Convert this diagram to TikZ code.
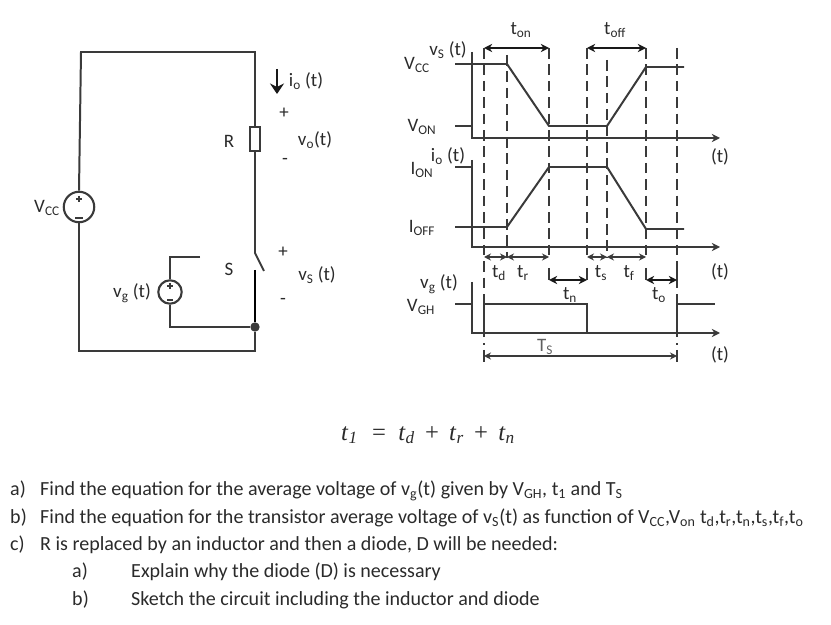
\documentclass[tikz,border=0pt]{standalone}
\usepackage{fontspec}
\setmainfont{Carlito}
\newfontfamily\eqnfont{Liberation Serif}
\usetikzlibrary{arrows.meta}
\definecolor{wirecol}{HTML}{3A3A3A}
\definecolor{inkcol}{HTML}{2A2A2A}
\newcommand{\lowtxt}[1]{\textsubscript{#1}}
\newcommand{\eqt}[1]{\textit{t}\textsubscript{\textit{#1}}}
\tikzset{
    wire/.style={draw=wirecol, line width=1.7pt},
    trace/.style={draw=wirecol, line width=1.7pt},
    axis/.style={draw=wirecol, line width=1.7pt, -{Stealth[length=7pt,width=7pt]}},
    guide/.style={draw=wirecol, line width=1.6pt, dash pattern=on 9pt off 5pt},
    thinspan/.style={draw=wirecol, line width=1.2pt, {Stealth[length=6pt,width=6pt]}-{Stealth[length=6pt,width=6pt]}},
    boldspan/.style={draw=black!90, line width=1.9pt, {Stealth[length=7pt,width=7pt]}-{Stealth[length=7pt,width=7pt]}},
    lab/.style={text=inkcol, inner sep=0pt, font=\fontsize{16.2}{20}\selectfont},
    para/.style={text=inkcol, inner sep=0pt, anchor=base west, font=\fontsize{17.1}{20}\selectfont},
    bigsrc/.style={circle, draw=wirecol, line width=1.8pt, minimum size=26pt, inner sep=0pt},
    smallsrc/.style={circle, draw=wirecol, line width=1.8pt, minimum size=20pt, inner sep=0pt},
}
\begin{document}
\begin{tikzpicture}[x=0.03cm, y=-0.03cm]
    \useasboundingbox (0, 0) rectangle (831, 625);

    % circuit
    \coordinate (tl) at (81, 52);
    \coordinate (tr) at (255, 52);
    \coordinate (bl) at (79, 351);
    \coordinate (br) at (255, 351);
    \coordinate (swtop) at (255, 253);
    \coordinate (swarm) at (264, 271);
    \coordinate (swlow) at (255, 270);
    \coordinate (gate) at (200, 257);
    \coordinate (gatel) at (170, 257);
    \coordinate (retl) at (170, 327);
    \node[bigsrc] (vcc) at (79, 207) {};
    \node[smallsrc] (vgs) at (170, 292) {};
    \node[draw=wirecol, line width=1.6pt, minimum width=9pt, minimum height=21pt, inner sep=0pt] (res) at (255, 139) {};
    \node[circle, fill=wirecol, inner sep=0pt, minimum size=8pt] (jn) at (255, 327) {};

    \draw[wire] (vcc.north) -- (tl) -- (tr) -- (res.north);
    \draw[wire] (res.south) -- (swtop) -- (swarm);
    \draw[draw=black, line width=2.4pt] (swlow) -- (jn);
    \draw[wire] (jn) -- (br) -- (bl) -- (vcc.south);
    \draw[wire] (gate) -- (gatel) -- (vgs.north);
    \draw[wire] (vgs.south) -- (retl) -- (jn);

    % source signs
    \draw[wire, line width=1.1pt] (76, 199) -- (82, 199) (79, 196) -- (79, 202);
    \draw[wire, line width=2pt] (75, 218) -- (83, 218);
    \draw[wire, line width=0.9pt] (167, 286) -- (173, 286) (170, 283) -- (170, 289);
    \draw[wire, line width=1.8pt] (167, 300) -- (173, 300);

    \coordinate (iotop) at (277, 69);
    \coordinate (iobot) at (277, 94);
    \draw[draw=black!90, line width=2.4pt, -{Stealth[length=9pt,width=12pt]}] (iotop) -- (iobot);

    \node[lab] (ioc) at (306, 81) {i\lowtxt{o} (t)};
    \node[lab] (pluso) at (284, 113) {+};
    \node[lab] (voc) at (315, 140) {v\lowtxt{o}(t)};
    \node[lab] (minuso) at (285, 161) {-};
    \node[lab] (rlab) at (229, 141) {R};
    \node[lab] (vcclab) at (47, 208) {V\lowtxt{CC}};
    \node[lab] (slab) at (229, 269) {S};
    \node[lab] (pluss) at (283, 252) {+};
    \node[lab] (vsc) at (317, 275) {v\lowtxt{S} (t)};
    \node[lab] (minuss) at (283, 301) {-};
    \node[lab] (vgc) at (132, 293) {v\lowtxt{g} (t)};

    % timing marks
    \foreach \name/\xpos/\ytop/\ybot in {a/484/48/345, b/507/55/258, c/549/48/258, d/587/48/258, e/607/60/258, f/646/48/258, g/677/48/345} {
        \coordinate (\name top) at (\xpos, \ytop);
        \coordinate (\name bot) at (\xpos, \ybot);
        \coordinate (\name span) at (\xpos, 257);
        \coordinate (\name low) at (\xpos, 280);
        \coordinate (\name tick) at (\xpos, 268);
        \draw[guide] (\name top) -- (\name bot);
    }
    \foreach \name in {c, d, f, g} {
        \draw[wire] (\name tick) -- (\name low);
    }

    % vs(t)
    \coordinate (vsorg) at (472, 138);
    \draw[axis] (472, 52) -- (vsorg) -- (720, 138);
    \draw[trace] (455, 64) -- (507, 64) -- (549, 126) -- (607, 126) -- (646, 67) -- (684, 67);
    \draw[trace] (455, 126) -- (472, 126);

    % io(t)
    \coordinate (ioorg) at (472, 247);
    \draw[axis] (472, 160) -- (ioorg) -- (720, 247);
    \draw[trace] (455, 227) -- (507, 227) -- (549, 167) -- (607, 167) -- (646, 229) -- (684, 229);
    \draw[trace] (455, 167) -- (472, 167);

    % vg(t)
    \coordinate (vgorg) at (472, 333);
    \draw[axis] (472, 282) -- (vgorg) -- (720, 333);
    \draw[trace] (455, 304) -- (472, 304);
    \draw[trace] (484, 333) -- (484, 304) -- (587, 304) -- (587, 333);
    \draw[trace] (677, 333) -- (677, 304) -- (715, 304);

    % spans
    \coordinate (ona) at (484, 48);
    \coordinate (onb) at (549, 48);
    \coordinate (offa) at (587, 48);
    \coordinate (offb) at (646, 48);
    \draw[boldspan] (ona) -- (onb);
    \draw[boldspan] (offa) -- (offb);
    \draw[thinspan] (aspan) -- (bspan);
    \draw[thinspan] (bspan) -- (cspan);
    \draw[thinspan] (dspan) -- (espan);
    \draw[thinspan] (espan) -- (fspan);
    \draw[boldspan] (clow) -- (dlow);
    \draw[boldspan] (flow) -- (glow);
    \coordinate (tsa) at (484, 356);
    \coordinate (tsb) at (677, 356);
    \draw[thinspan] (tsa) -- (tsb);
    \draw[wirecol, line width=1.2pt] (484, 350) -- (484, 362) (677, 350) -- (677, 362);

    \node[lab] (ton) at (521, 30) {t\lowtxt{on}};
    \node[lab] (toff) at (615, 30) {t\lowtxt{off}};
    \node[lab] (vslab) at (448, 50) {v\lowtxt{S} (t)};
    \node[lab] (vcclev) at (417, 65) {V\lowtxt{CC}};
    \node[lab] (vonlev) at (422, 127) {V\lowtxt{ON}};
    \node[lab] (iolab) at (448, 156) {i\lowtxt{o} (t)};
    \node[lab] (ionlev) at (422, 170) {I\lowtxt{ON}};
    \node[lab] (iofflev) at (422, 228) {I\lowtxt{OFF}};
    \node[lab] (vglab) at (439, 284) {v\lowtxt{g} (t)};
    \node[lab] (vghlev) at (421, 307) {V\lowtxt{GH}};
    \node[lab] (td) at (499, 273) {t\lowtxt{d}};
    \node[lab] (trr) at (523, 273) {t\lowtxt{r}};
    \node[lab] (tn) at (570, 295) {t\lowtxt{n}};
    \node[lab] (ts) at (601, 273) {t\lowtxt{s}};
    \node[lab] (tf) at (629, 273) {t\lowtxt{f}};
    \node[lab] (to) at (659, 295) {t\lowtxt{o}};
    \node[lab, text=inkcol!75] (tper) at (545, 347) {T\lowtxt{S}};
    \node[lab] (tu) at (720, 157) {(t)};
    \node[lab] (tv) at (720, 272) {(t)};
    \node[lab] (tw) at (720, 355) {(t)};

    % equation and questions
    \node[lab, font=\fontsize{21}{24}\selectfont\eqnfont] (eqn) at (428, 435) {\eqt{1}\,\, =\ \ \eqt{d}\, +\, \eqt{r}\, +\, \eqt{n}};

    \node[para] (qa) at (10, 495) {a)};
    \node[para] (qatxt) at (40, 495) {Find the equation for the average voltage of v\lowtxt{g}(t) given by V\lowtxt{GH}, t\lowtxt{1} and T\lowtxt{S}};
    \node[para] (qb) at (10, 523) {b)};
    \node[para] (qbtxt) at (40, 523) {Find the equation for the transistor average voltage of v\lowtxt{S}(t) as function of V\lowtxt{CC},V\lowtxt{on} t\lowtxt{d},t\lowtxt{r},t\lowtxt{n},t\lowtxt{s},t\lowtxt{f},t\lowtxt{o}};
    \node[para] (qc) at (10, 550) {c)};
    \node[para] (qctxt) at (40, 550) {R is replaced by an inductor and then a diode, D will be needed:};
    \node[para] (qd) at (72, 577) {a)};
    \node[para] (qdtxt) at (131, 577) {Explain why the diode (D) is necessary};
    \node[para] (qe) at (72, 605) {b)};
    \node[para] (qetxt) at (131, 605) {Sketch the circuit including the inductor and diode};
\end{tikzpicture}
\end{document}
